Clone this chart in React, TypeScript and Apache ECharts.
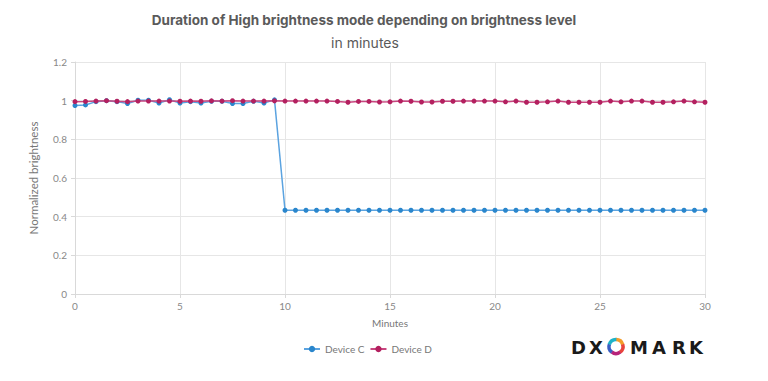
import React, { useEffect, useRef } from "react";
import * as echarts from "echarts";

const minutes = [
  0, 0.5, 1, 1.5, 2, 2.5, 3, 3.5, 4, 4.5,
  5, 5.5, 6, 6.5, 7, 7.5, 8, 8.5, 9, 9.5,
  10, 10.5, 11, 11.5, 12, 12.5, 13, 13.5, 14, 14.5,
  15, 15.5, 16, 16.5, 17, 17.5, 18, 18.5, 19, 19.5,
  20, 20.5, 21, 21.5, 22, 22.5, 23, 23.5, 24, 24.5,
  25, 25.5, 26, 26.5, 27, 27.5, 28, 28.5, 29, 29.5,
  30,
];

const deviceC = [
  0.975, 0.978, 0.995, 1.0, 0.995, 0.985, 1.002, 1.002, 0.988, 1.005,
  0.988, 0.995, 0.988, 0.997, 0.997, 0.985, 0.985, 0.997, 0.988, 1.004,
  0.433, 0.433, 0.433, 0.433, 0.433, 0.433, 0.433, 0.433, 0.433, 0.433,
  0.433, 0.433, 0.433, 0.433, 0.433, 0.433, 0.433, 0.433, 0.433, 0.433,
  0.433, 0.433, 0.433, 0.433, 0.433, 0.433, 0.433, 0.433, 0.433, 0.433,
  0.433, 0.433, 0.433, 0.433, 0.433, 0.433, 0.433, 0.433, 0.433, 0.433,
  0.433,
];

const deviceD = [
  0.995, 0.996, 0.998, 1.0, 0.997, 0.995, 0.998, 0.998, 0.998, 0.998,
  0.997, 0.998, 0.997, 0.999, 0.998, 1.0, 0.998, 0.998, 0.998, 0.999,
  0.998, 0.998, 0.998, 0.998, 0.998, 0.996, 0.992, 0.996, 0.996, 0.993,
  0.994, 0.998, 0.997, 0.993, 0.993, 0.997, 0.997, 0.998, 0.998, 0.998,
  0.998, 0.994, 0.998, 0.992, 0.992, 0.994, 0.998, 0.992, 0.992, 0.992,
  0.992, 0.998, 0.994, 0.998, 0.998, 0.992, 0.992, 0.994, 0.998, 0.994,
  0.992,
];

const seriesNames = ["Device C", "Device D"];
const titleText = "Duration of High brightness mode depending on brightness level";
const subtitleText = "in minutes";
const yAxisTitle = "Normalized brightness";
const xAxisTitle = "Minutes";
const logoLetters = ["D", "X", "M", "A", "R", "K"];

export default function App() {
  const ref = useRef<HTMLDivElement>(null);

  useEffect(() => {
    document.body.style.margin = "0";
    if (!ref.current) return;
    const chart = echarts.init(ref.current, undefined, { renderer: "svg" });
    const tickFont = "Lato, sans-serif";
    const letterX = [571, 589, 630, 652, 672, 689];
    const ringColors = ["#f39c2b", "#e8433c", "#b8237a", "#3b5fc4", "#1fb3c8"];
    const ringArcs = ringColors.map((c, i) => ({
      type: "arc",
      shape: {
        cx: 616,
        cy: 346.5,
        r: 7,
        startAngle: (-Math.PI / 2) + (i * 2 * Math.PI) / 5,
        endAngle: (-Math.PI / 2) + ((i + 1) * 2 * Math.PI) / 5 + 0.05,
      },
      style: { stroke: c, lineWidth: 3.5, fill: "none" },
    }));
    chart.setOption({
      animation: false,
      backgroundColor: "#ffffff",
      legend: {
        data: seriesNames,
        top: 339,
        left: 298,
        itemWidth: 16,
        itemHeight: 8,
        itemGap: 5,
        textStyle: { fontFamily: tickFont, fontSize: 10, color: "#777" },
      },
      grid: { left: 75, right: 63, top: 62, bottom: 87 },
      xAxis: {
        type: "value",
        min: 0,
        max: 30,
        interval: 5,
        name: xAxisTitle,
        nameLocation: "middle",
        nameGap: 24,
        nameTextStyle: { fontFamily: tickFont, fontSize: 10, color: "#777" },
        axisLine: { show: true, lineStyle: { color: "#d9d9d9" } },
        axisTick: { show: true, length: 4, lineStyle: { color: "#d9d9d9" } },
        axisLabel: { fontFamily: tickFont, fontSize: 10, color: "#888", margin: 7 },
        splitLine: { show: true, lineStyle: { color: "#e6e6e6" } },
      },
      yAxis: {
        type: "value",
        min: 0,
        max: 1.2,
        interval: 0.2,
        name: yAxisTitle,
        nameLocation: "middle",
        nameGap: 36,
        nameTextStyle: { fontFamily: tickFont, fontSize: 11.5, color: "#777" },
        axisLine: { show: true, lineStyle: { color: "#d9d9d9" } },
        axisTick: { show: true, length: 4, lineStyle: { color: "#d9d9d9" } },
        axisLabel: {
          fontFamily: tickFont,
          fontSize: 10,
          color: "#888",
          margin: 8,
          formatter: (v: number) => String(Math.round(v * 10) / 10),
        },
        splitLine: { show: true, lineStyle: { color: "#e6e6e6" } },
      },
      series: [
        {
          name: seriesNames[0],
          type: "line",
          data: minutes.map((m, i) => [m, deviceC[i]]),
          symbol: "circle",
          symbolSize: 5,
          lineStyle: { color: "#5ba3e0", width: 1.5 },
          itemStyle: { color: "#2a86cc" },
          z: 2,
        },
        {
          name: seriesNames[1],
          type: "line",
          data: minutes.map((m, i) => [m, deviceD[i]]),
          symbol: "circle",
          symbolSize: 5,
          lineStyle: { color: "#c8467f", width: 1.5 },
          itemStyle: { color: "#b3205f" },
          z: 3,
        },
      ],
      graphic: [
        {
          type: "text",
          x: 364,
          y: 20,
          style: {
            text: titleText,
            align: "center",
            verticalAlign: "middle",
            fontFamily: "Inter, sans-serif",
            fontWeight: 700,
            fontSize: 13.5,
            fill: "#5a5a5a",
          },
        },
        {
          type: "text",
          x: 365,
          y: 42,
          style: {
            text: subtitleText,
            align: "center",
            verticalAlign: "middle",
            fontFamily: "Inter, sans-serif",
            fontWeight: 400,
            fontSize: 14,
            fill: "#5a5a5a",
          },
        },
        ...logoLetters.map((l, i) => ({
          type: "text",
          x: letterX[i],
          y: 338,
          style: {
            text: l,
            fontFamily: "'DejaVu Sans', sans-serif",
            fontWeight: 700,
            fontSize: 18,
            fill: "#1a1a1a",
          },
        })),
        ...ringArcs,
      ],
    });
    return () => chart.dispose();
  }, []);

  return <div ref={ref} style={{ width: 768, height: 381 }} />;
}
